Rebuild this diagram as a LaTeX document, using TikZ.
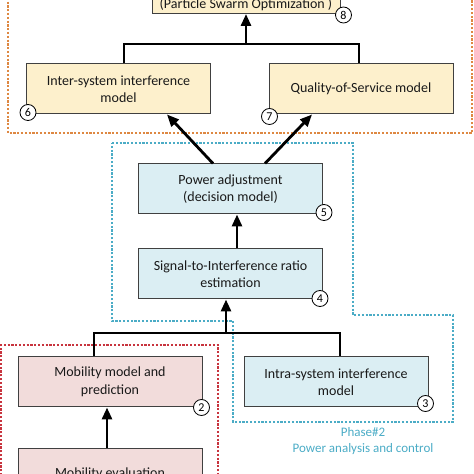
\documentclass[tikz,border=0pt]{standalone}
\usepackage{fontspec}
\setmainfont{Carlito}
\usetikzlibrary{arrows.meta}
\definecolor{pso}{RGB}{253,240,204}
\definecolor{aqua}{RGB}{219,238,243}
\definecolor{rose}{RGB}{242,220,219}
\definecolor{orangeline}{RGB}{222,136,66}
\definecolor{aqualine}{RGB}{75,172,198}
\definecolor{redline}{RGB}{200,52,62}
\begin{document}
\begin{tikzpicture}[
    x=1pt, y=1pt,
    >={Triangle[length=12pt,width=10pt]},
    block/.style={
        rectangle, draw=black!75, fill=#1, line width=1pt,
        minimum width=184pt, minimum height=50pt,
        align=center, font=\fontsize{14}{17.5}\selectfont, text=black!90
    },
    tag/.style={
        circle, draw=black, fill=white, line width=0.8pt,
        minimum size=16pt, inner sep=0pt, font=\fontsize{12}{13}\selectfont
    },
    link/.style={line width=2.8pt, draw=black},
    flow/.style={->, line width=2.8pt, draw=black},
    phase/.style={line width=1.3pt, dash pattern=on 2.2pt off 1.6pt, draw=#1},
]
\clip (0,0) rectangle (474,474);

% ── Phase frames ─────────────────────────────────────────────
\draw[phase=orangeline] (8,480) -- (8,341) -- (472,341) -- (472,480);
\draw[phase=aqualine] (112,331) -- (353,331) -- (353,159) -- (453,159)
    -- (453,52) -- (233,52) -- (233,153) -- (112,153) -- cycle;
\draw[phase=redline] (1,-5) -- (1,129) -- (218,129) -- (218,-5);

% ── Blocks ───────────────────────────────────────────────────
\node[block=pso, anchor=south, minimum width=188pt, minimum height=17pt, inner ysep=1pt]
    (swarm) at (246,460) {(Particle Swarm Optimization )};
\node[block=pso]  (inter) at (118.5,385) {Inter-system interference\\model};
\node[block=pso]  (qos)   at (361,385)   {Quality-of-Service model};
\node[block=aqua] (power) at (230.5,285) {Power adjustment\\(decision model)};
\node[block=aqua] (sir)   at (230.5,200) {Signal-to-Interference ratio\\estimation};
\node[block=rose] (mob)   at (110,92)    {Mobility model and\\prediction};
\node[block=aqua] (intra) at (336,92)    {Intra-system interference\\model};
\node[block=rose, anchor=north] (mobeval) at (110,26) {Mobility evaluation};

% ── Step numbers ─────────────────────────────────────────────
\node[tag] (n8) at ([shift={(3,-1)}]swarm.south east) {8};
\node[tag] (n6) at ([shift={(2,2)}]inter.south west)  {6};
\node[tag] (n7) at ([shift={(1,-2)}]qos.south west)   {7};
\node[tag] (n5) at ([shift={(1,2)}]power.south east)  {5};
\node[tag] (n4) at ([shift={(-3,1)}]sir.south east)   {4};
\node[tag] (n2) at ([shift={(-1,0)}]mob.south east)   {2};
\node[tag] (n3) at ([shift={(-3,4)}]intra.south east) {3};

% ── Connectors ───────────────────────────────────────────────
\coordinate (top)  at (246,430);
\coordinate (base) at (226,141);

\draw[link] ([xshift=5.5pt]inter.north) |- (top) -| ([xshift=-2pt]qos.north);
\draw[flow] (top) -- (swarm.south);

\draw[flow] ([xshift=-17.5pt]power.north) -- ([xshift=48.5pt]inter.south);
\draw[flow] ([xshift=34.5pt]power.north) -- ([xshift=-49pt]qos.south);
\draw[flow] ([xshift=6.5pt]sir.north) -- ([xshift=6.5pt]power.south);

\draw[link] ([xshift=-16pt]mob.north) |- (base) -| ([xshift=4pt]intra.north);
\draw[flow] (base) -- (base |- sir.south);
\draw[flow] ([xshift=-3pt]mobeval.north) -- ([xshift=-3pt]mob.south);

% ── Phase label ──────────────────────────────────────────────
\node[text=aqualine, align=center, font=\fontsize{13}{16}\selectfont]
    (phase2) at (363,33) {Phase\#2\\Power analysis and control};

\end{tikzpicture}
\end{document}
